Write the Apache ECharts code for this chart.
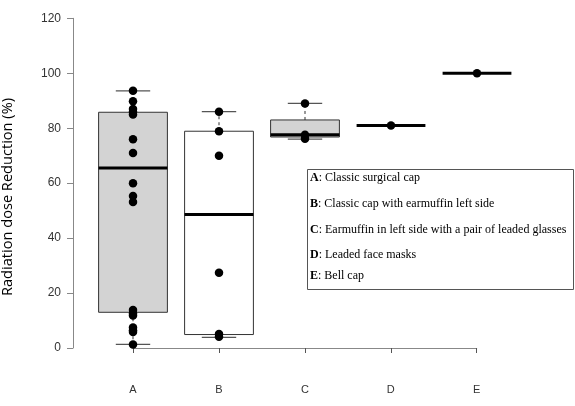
<!DOCTYPE html>
<html><head><meta charset="utf-8">
<script src="https://cdn.jsdelivr.net/npm/echarts@6/dist/echarts.min.js"></script>
<style>html,body{margin:0;padding:0;background:#fff}#c{width:575px;height:406px}</style>
</head><body><div id="c"></div>
<script>
const categories = ['A','B','C','D','E'];
// box stats: [min, Q1, median, Q3, max]
const statsA = [1.3, 13, 65.5, 85.8, 93.6];
const statsB = [3.9, 4.9, 48.6, 78.9, 86];
const statsC = [76, 76.8, 77.6, 83, 89];
const statsD = [81, 81, 81, 81, 81];
const statsE = [100, 100, 100, 100, 100];
// individual observations
const pointsA = [93.6, 89.8, 87, 86, 85, 76, 71, 60, 55.3, 53.1, 13.8, 12.6, 11.8, 7.5, 6.5, 5.8, 1.3];
const pointsB = [86, 78.9, 70, 27.4, 5.1, 4.1];
const pointsC = [89, 77.6, 76.2];
const pointsD = [81];
const pointsE = [100];
const legendKeys = ['A','B','C','D','E'];
const legendTexts = ['Classic surgical cap','Classic cap with earmuffin left side','Earmuffin in left side with a pair of leaded glasses','Leaded face masks','Bell cap'];
const yTicks = [0,20,40,60,80,100,120];

const boxFills = ['#d3d3d3','#ffffff','#d3d3d3','#d3d3d3','#d3d3d3'];
const allStats = [statsA, statsB, statsC, statsD, statsE];
const allPoints = [pointsA, pointsB, pointsC, pointsD, pointsE];

const boxData = allStats.map((s,i)=>[i].concat(s));
const scatterData = [];
allPoints.forEach((arr,i)=>arr.forEach(v=>scatterData.push([i,v])));

const chart = echarts.init(document.getElementById('c'));
const legendYs = [177.5, 203.5, 229.5, 255, 276];
const graphics = [
  {type:'rect', shape:{x:307.5,y:169.5,width:266,height:120}, style:{fill:'#fff',stroke:'#555',lineWidth:1}, z:10},
  {type:'text', x:8, y:197, rotation:Math.PI/2, style:{text:'Radiation dose Reduction (%)', font:'14.6px "Open Sans"', fill:'#000', align:'center', verticalAlign:'middle'}}
];
legendKeys.forEach((k,i)=>{
  graphics.push({type:'text', x:310, y:legendYs[i], z:11, style:{
    text:'{b|'+k+'}: '+legendTexts[i], font:'12px "Liberation Serif"', fill:'#000', verticalAlign:'middle', align:'left',
    rich:{b:{font:'bold 12px "Liberation Serif"', fill:'#000'}}
  }});
});

chart.setOption({
  animation:false,
  grid:[
    {left:90, right:55, top:18.3, bottom:58},
    {left:133, right:98.3, top:18.3, bottom:58}
  ],
  xAxis:[
    {type:'category', data:categories, gridIndex:0, show:false, boundaryGap:true},
    {type:'value', gridIndex:1, min:0, max:4, interval:1, offset:14,
     axisLine:{show:true, lineStyle:{color:'#888', width:1}},
     axisTick:{show:true, inside:false, length:5, lineStyle:{color:'#555'}},
     splitLine:{show:false},
     axisLabel:{margin:22, color:'#333', fontFamily:'Liberation Sans', fontSize:11, formatter:v=>categories[v]}}
  ],
  yAxis:[
    {type:'value', gridIndex:0, min:0, max:120, interval:20, offset:17,
     axisLine:{show:true, lineStyle:{color:'#888', width:1}},
     axisTick:{show:true, inside:false, length:6, lineStyle:{color:'#888'}},
     splitLine:{show:false},
     axisLabel:{margin:12, color:'#333', fontFamily:'Liberation Sans', fontSize:12, formatter:v=>yTicks.includes(v)?String(v):''}},
    {type:'value', gridIndex:1, show:false, min:0, max:120}
  ],
  graphic: graphics,
  series:[
    {type:'custom', xAxisIndex:0, yAxisIndex:0, data:boxData, z:2,
     renderItem:function(params, api){
       const i = api.value(0);
       const band = api.size([1,0])[0];
       const c = api.coord([i, api.value(3)]);
       const x = c[0];
       const yMin = api.coord([i, api.value(1)])[1];
       const yQ1 = api.coord([i, api.value(2)])[1];
       const yMed = c[1];
       const yQ3 = api.coord([i, api.value(4)])[1];
       const yMax = api.coord([i, api.value(5)])[1];
       const bw = band*0.8, cw = band*0.4;
       const kids = [];
       const dash = {stroke:'#333', lineWidth:1, lineDash:[3,3]};
       if (yMax < yQ3) kids.push({type:'line', shape:{x1:x,y1:yQ3,x2:x,y2:yMax}, style:dash});
       if (yMin > yQ1) kids.push({type:'line', shape:{x1:x,y1:yQ1,x2:x,y2:yMin}, style:dash});
       kids.push({type:'line', shape:{x1:x-cw/2,y1:yMax,x2:x+cw/2,y2:yMax}, style:{stroke:'#555',lineWidth:1.2}});
       kids.push({type:'line', shape:{x1:x-cw/2,y1:yMin,x2:x+cw/2,y2:yMin}, style:{stroke:'#555',lineWidth:1.2}});
       if (yQ1 - yQ3 > 0.5) kids.push({type:'rect', shape:{x:x-bw/2,y:yQ3,width:bw,height:yQ1-yQ3}, style:{fill:boxFills[i], stroke:'#333', lineWidth:1}});
       kids.push({type:'line', shape:{x1:x-bw/2,y1:yMed,x2:x+bw/2,y2:yMed}, style:{stroke:'#000',lineWidth:3}});
       return {type:'group', children:kids};
     }},
    {type:'scatter', xAxisIndex:0, yAxisIndex:0, data:scatterData, symbol:'circle', symbolSize:8.5,
     itemStyle:{color:'#000', opacity:1}, z:5}
  ]
});
</script></body></html>
